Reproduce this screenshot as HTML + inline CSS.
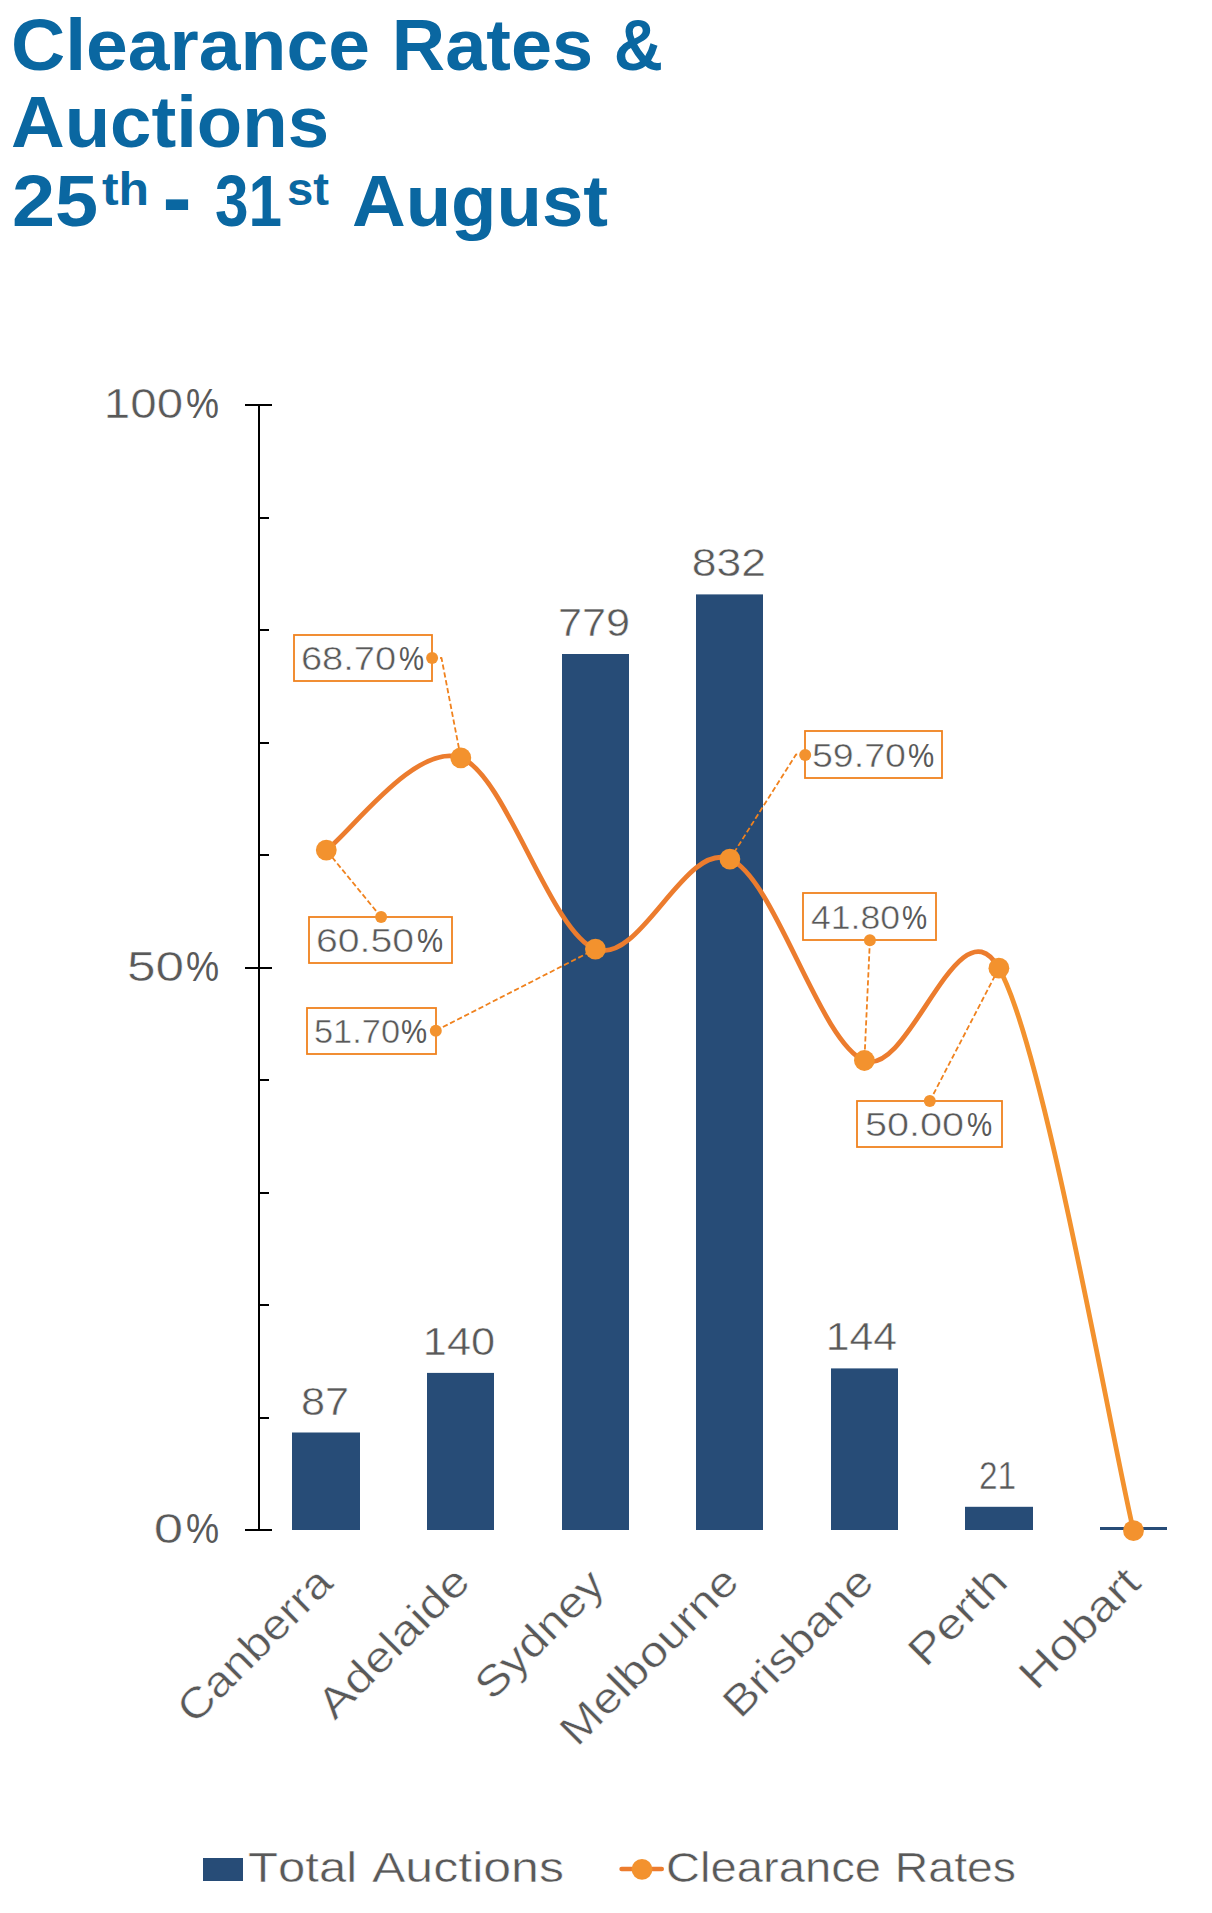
<!DOCTYPE html>
<html lang="en"><head><meta charset="utf-8"><title>Clearance Rates &amp; Auctions</title>
<style>html,body{margin:0;padding:0;background:#fff}body{width:1212px;height:1913px;overflow:hidden}svg{display:block}text{font-family:"Liberation Sans",sans-serif;font-kerning:none}.g{stroke:#fff;stroke-width:.5px}</style></head><body>
<svg width="1212" height="1913" viewBox="0 0 1212 1913">
<rect width="1212" height="1913" fill="#fff"/>
<text id="t1a" font-size="72.6" fill="#0A67A1" textLength="359.06" lengthAdjust="spacingAndGlyphs" font-weight="bold" x="10.97" y="69.7">Clearance</text>
<text id="t1b" font-size="72.6" fill="#0A67A1" textLength="201.26" lengthAdjust="spacingAndGlyphs" font-weight="bold" x="391.84" y="69.7">Rates</text>
<text id="t1c" font-size="72.6" fill="#0A67A1" textLength="49.28" lengthAdjust="spacingAndGlyphs" font-weight="bold" x="613.85" y="69.7">&amp;</text>
<text id="t2" font-size="72.6" fill="#0A67A1" textLength="318.05" lengthAdjust="spacingAndGlyphs" font-weight="bold" x="10.98" y="147.4">Auctions</text>
<text id="t3a" font-size="72.6" fill="#0A67A1" textLength="86.18" lengthAdjust="spacingAndGlyphs" font-weight="bold" x="11.91" y="226.2">25</text>
<text id="t3b" font-size="45.8" fill="#0A67A1" textLength="47.17" lengthAdjust="spacingAndGlyphs" font-weight="bold" x="101.96" y="204.7">th</text>
<text id="t3c" font-size="89.0" fill="#0A67A1" textLength="29.08" lengthAdjust="spacingAndGlyphs" font-weight="bold" x="162.44" y="227.5">-</text>
<text id="t3d" font-size="72.6" fill="#0A67A1" textLength="67.04" lengthAdjust="spacingAndGlyphs" font-weight="bold" x="214.99" y="226.2">31</text>
<text id="t3e" font-size="45.8" fill="#0A67A1" textLength="42.06" lengthAdjust="spacingAndGlyphs" font-weight="bold" x="286.95" y="205.0">st</text>
<text id="t3f" font-size="72.6" fill="#0A67A1" textLength="256.01" lengthAdjust="spacingAndGlyphs" font-weight="bold" x="351.99" y="226.2">August</text>
<g stroke="#000" stroke-width="2" fill="none">
<path d="M259.0 404.0V1531.0"/>
<path d="M245.0 1530.0H272.0"/>
<path d="M259.0 1418.0H269.0"/>
<path d="M259.0 1305.0H269.0"/>
<path d="M259.0 1193.0H269.0"/>
<path d="M259.0 1080.0H269.0"/>
<path d="M245.0 968.0H272.0"/>
<path d="M259.0 855.0H269.0"/>
<path d="M259.0 743.0H269.0"/>
<path d="M259.0 630.0H269.0"/>
<path d="M259.0 518.0H269.0"/>
<path d="M245.0 405.0H272.0"/>
</g>
<text id="y100" font-size="43.4" fill="#595959" textLength="79.29" lengthAdjust="spacingAndGlyphs" class="g" x="103.81" y="418.2">100</text>
<text id="y100p" font-size="43.4" fill="#595959" textLength="33.03" lengthAdjust="spacingAndGlyphs" x="185.98" y="418.2">%</text>
<text id="y50" font-size="43.4" fill="#595959" textLength="57.18" lengthAdjust="spacingAndGlyphs" class="g" x="126.91" y="980.8">50</text>
<text id="y50p" font-size="43.4" fill="#595959" textLength="33.11" lengthAdjust="spacingAndGlyphs" x="185.95" y="980.8">%</text>
<text id="y0" font-size="43.4" fill="#595959" textLength="29.41" lengthAdjust="spacingAndGlyphs" class="g" x="153.76" y="1543.4">0</text>
<text id="y0p" font-size="43.4" fill="#595959" textLength="33.11" lengthAdjust="spacingAndGlyphs" x="185.93" y="1543.4">%</text>
<g fill="#274C77">
<rect x="292" y="1432.5" width="68" height="97.5"/>
<rect x="427" y="1372.9" width="67" height="157.1"/>
<rect x="562" y="654.0" width="67" height="876.0"/>
<rect x="696" y="594.4" width="67" height="935.6"/>
<rect x="831" y="1368.4" width="67" height="161.6"/>
<rect x="965" y="1506.8" width="68" height="23.2"/>
<rect x="1100" y="1527.0" width="67" height="3.0"/>
</g>
<text id="b0" font-size="38.6" fill="#595959" textLength="48.17" lengthAdjust="spacingAndGlyphs" class="g" x="300.92" y="1414.7">87</text>
<text id="b1" font-size="38.6" fill="#595959" textLength="72.27" lengthAdjust="spacingAndGlyphs" class="g" x="422.82" y="1354.7">140</text>
<text id="b2" font-size="38.6" fill="#595959" textLength="72.21" lengthAdjust="spacingAndGlyphs" class="g" x="557.90" y="635.9">779</text>
<text id="b3" font-size="38.6" fill="#595959" textLength="74.24" lengthAdjust="spacingAndGlyphs" class="g" x="691.89" y="576.3">832</text>
<text id="b4" font-size="38.6" fill="#595959" textLength="71.28" lengthAdjust="spacingAndGlyphs" class="g" x="825.80" y="1350.3">144</text>
<text id="b5" font-size="38.6" fill="#595959" textLength="37.24" lengthAdjust="spacingAndGlyphs" class="g" x="978.90" y="1489.0">21</text>
<path d="M326.3 850.1 C348.7 834.7 416.0 741.3 460.8 757.8 C505.7 774.3 550.5 932.2 595.4 949.1 C640.2 966.0 685.0 840.5 729.9 859.1 C774.7 877.6 819.6 1042.3 864.4 1060.5 C909.3 1078.6 958.2 897.0 998.9 968.2" fill="none" stroke="#EC7C2E" stroke-width="4.8" stroke-linecap="round" stroke-linejoin="round"/>
<path d="M998.9 968.2 C1043.8 1046.6 1111.1 1437.0 1133.5 1530.7" fill="none" stroke="#F3922E" stroke-width="4.8" stroke-linecap="round"/>
<g fill="none" stroke="#F0821E" stroke-width="1.8" stroke-linejoin="round" stroke-dasharray="5.3 2.7">
<path d="M432.1 658.0 L441.5 658.0 L460.8 757.8"/>
<path d="M381.1 917.1 L326.3 850.1"/>
<path d="M435.8 1030.7 L595.4 949.1"/>
<path d="M805.2 754.9 L796.0 754.5 L729.9 859.1"/>
<path d="M869.9 940.3 L864.4 1060.5"/>
<path d="M929.8 1101.1 L998.9 968.2"/>
</g>
<rect x="294.0" y="635.0" width="138.0" height="46.0" fill="#fff" stroke="#F0821E" stroke-width="1.8"/>
<circle cx="432.1" cy="658.0" r="6" fill="#F3922E"/>
<text id="c1" font-size="33.6" fill="#595959" textLength="95.08" lengthAdjust="spacingAndGlyphs" class="g" x="300.95" y="670.3">68.70</text>
<text id="c1p" font-size="33.6" fill="#595959" textLength="25.05" lengthAdjust="spacingAndGlyphs" x="398.99" y="670.3">%</text>
<rect x="309.0" y="917.0" width="143.0" height="46.0" fill="#fff" stroke="#F0821E" stroke-width="1.8"/>
<circle cx="381.1" cy="917.1" r="6" fill="#F3922E"/>
<text id="c0" font-size="33.6" fill="#595959" textLength="98.09" lengthAdjust="spacingAndGlyphs" class="g" x="315.95" y="952.3">60.50</text>
<text id="c0p" font-size="33.6" fill="#595959" textLength="26.11" lengthAdjust="spacingAndGlyphs" x="416.99" y="952.3">%</text>
<rect x="307.0" y="1008.0" width="129.0" height="46.0" fill="#fff" stroke="#F0821E" stroke-width="1.8"/>
<circle cx="435.8" cy="1030.7" r="6" fill="#F3922E"/>
<text id="c2" font-size="33.6" fill="#595959" textLength="86.09" lengthAdjust="spacingAndGlyphs" class="g" x="313.95" y="1043.3">51.70</text>
<text id="c2p" font-size="33.6" fill="#595959" textLength="26.06" lengthAdjust="spacingAndGlyphs" x="400.97" y="1043.3">%</text>
<rect x="805.0" y="731.0" width="137.0" height="47.0" fill="#fff" stroke="#F0821E" stroke-width="1.8"/>
<circle cx="805.2" cy="754.9" r="6" fill="#F3922E"/>
<text id="c3" font-size="33.6" fill="#595959" textLength="94.08" lengthAdjust="spacingAndGlyphs" class="g" x="811.96" y="766.9">59.70</text>
<text id="c3p" font-size="33.6" fill="#595959" textLength="26.19" lengthAdjust="spacingAndGlyphs" x="907.90" y="766.9">%</text>
<rect x="803.0" y="893.0" width="133.0" height="47.0" fill="#fff" stroke="#F0821E" stroke-width="1.8"/>
<circle cx="869.9" cy="940.3" r="6" fill="#F3922E"/>
<text id="c4" font-size="33.6" fill="#595959" textLength="89.02" lengthAdjust="spacingAndGlyphs" class="g" x="810.99" y="929.0">41.80</text>
<text id="c4p" font-size="33.6" fill="#595959" textLength="25.09" lengthAdjust="spacingAndGlyphs" x="901.93" y="929.0">%</text>
<rect x="857.0" y="1101.0" width="145.0" height="46.0" fill="#fff" stroke="#F0821E" stroke-width="1.8"/>
<circle cx="929.8" cy="1101.1" r="6" fill="#F3922E"/>
<text id="c5" font-size="33.6" fill="#595959" textLength="99.13" lengthAdjust="spacingAndGlyphs" class="g" x="864.93" y="1135.9">50.00</text>
<text id="c5p" font-size="33.6" fill="#595959" textLength="25.13" lengthAdjust="spacingAndGlyphs" x="966.93" y="1135.9">%</text>
<circle cx="326.3" cy="850.1" r="10.4" fill="#F3922E"/>
<circle cx="460.8" cy="757.8" r="10.4" fill="#F3922E"/>
<circle cx="595.4" cy="949.1" r="10.4" fill="#F3922E"/>
<circle cx="729.9" cy="859.1" r="10.4" fill="#F3922E"/>
<circle cx="864.4" cy="1060.5" r="10.4" fill="#F3922E"/>
<circle cx="998.9" cy="968.2" r="10.4" fill="#F3922E"/>
<circle cx="1133.5" cy="1530.7" r="10.4" fill="#F3922E"/>
<text id="x0" font-size="42.6" fill="#595959" textLength="198.74" lengthAdjust="spacingAndGlyphs" class="g" text-anchor="end" transform="translate(335.00 1585.00) rotate(-45)">Canberra</text>
<text id="x1" font-size="42.6" fill="#595959" textLength="194.10" lengthAdjust="spacingAndGlyphs" class="g" text-anchor="end" transform="translate(472.00 1584.00) rotate(-45)">Adelaide</text>
<text id="x2" font-size="42.6" fill="#595959" textLength="162.45" lengthAdjust="spacingAndGlyphs" class="g" text-anchor="end" transform="translate(607.00 1587.00) rotate(-45)">Sydney</text>
<text id="x3" font-size="42.6" fill="#595959" textLength="231.56" lengthAdjust="spacingAndGlyphs" class="g" text-anchor="end" transform="translate(741.00 1584.00) rotate(-45)">Melbourne</text>
<text id="x4" font-size="42.6" fill="#595959" textLength="192.07" lengthAdjust="spacingAndGlyphs" class="g" text-anchor="end" transform="translate(876.00 1584.00) rotate(-45)">Brisbane</text>
<text id="x5" font-size="42.6" fill="#595959" textLength="119.35" lengthAdjust="spacingAndGlyphs" class="g" text-anchor="end" transform="translate(1010.00 1584.00) rotate(-45)">Perth</text>
<text id="x6" font-size="42.6" fill="#595959" textLength="150.96" lengthAdjust="spacingAndGlyphs" class="g" text-anchor="end" transform="translate(1143.00 1585.00) rotate(-45)">Hobart</text>
<rect x="203" y="1858" width="40" height="23" fill="#274C77"/>
<text id="l1a" font-size="42.6" fill="#595959" textLength="109.13" lengthAdjust="spacingAndGlyphs" class="g" x="247.97" y="1882.1">Total</text>
<text id="l1b" font-size="42.6" fill="#595959" textLength="192.04" lengthAdjust="spacingAndGlyphs" class="g" x="371.98" y="1882.1">Auctions</text>
<path d="M621.6 1869H661.7" stroke="#EC7C2E" stroke-width="4.6" stroke-linecap="round"/>
<circle cx="642" cy="1869.3" r="10.4" fill="#F3922E"/>
<text id="l2a" font-size="42.6" fill="#595959" textLength="215.07" lengthAdjust="spacingAndGlyphs" class="g" x="665.97" y="1882.1">Clearance</text>
<text id="l2b" font-size="42.6" fill="#595959" textLength="121.21" lengthAdjust="spacingAndGlyphs" class="g" x="894.85" y="1882.1">Rates</text>
</svg></body></html>
